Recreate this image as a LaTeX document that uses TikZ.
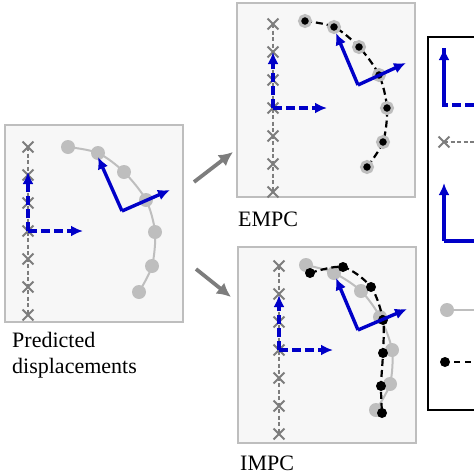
\documentclass[tikz,border=0pt]{standalone}
\usepackage{fontspec}
\setmainfont{Liberation Serif}
\usetikzlibrary{arrows.meta,shapes.misc}
\definecolor{azul}{RGB}{0,0,200}
\definecolor{fondo}{RGB}{247,247,247}
\definecolor{borde}{RGB}{190,190,190}
\definecolor{grisx}{RGB}{125,125,125}
\definecolor{grisc}{RGB}{190,190,190}

\begin{document}
\begin{tikzpicture}[x=1pt,y=-1pt,font=\fontsize{22}{26}\selectfont,
  panel/.style={draw=borde,fill=fondo,line width=1.4pt,minimum width=178pt,minimum height=196pt,inner sep=0pt},
  cruz/.style={cross out,draw=grisx,line width=1.8pt,minimum size=9pt,inner sep=0pt},
  guia/.style={draw=grisx,line width=1.5pt,dash pattern=on 4pt off 2.5pt},
  bola/.style={circle,fill=grisc,minimum size=14pt,inner sep=0pt},
  punto/.style={circle,fill=black,minimum size=10pt,inner sep=0pt},
  halo/.style={punto,minimum size=11pt,draw=grisc,line width=3pt},
  curvagris/.style={draw=grisc,line width=2pt},
  curvanegra/.style={draw=black,line width=2.2pt,dash pattern=on 7pt off 4pt},
  ejepunt/.style={draw=azul,line width=3.4pt,dash pattern=on 9pt off 4pt,-{Latex[length=12pt,width=11pt]}},
  eje/.style={draw=azul,line width=3.4pt,-{Latex[length=12pt,width=11pt]}},
  paso/.style={draw=grisx,line width=3.8pt,-{Latex[length=14pt,width=14pt]}},
  etiqueta/.style={inner sep=0pt,align=left}]
  \clip (0,0) rectangle (474,474);

  % Panel 1: desplazamientos predichos
  \node[panel,minimum height=197pt] (pred) at (94,223.5) {};
  \draw[guia] (28,147) -- (28,315);
  \foreach \y [count=\i] in {147,175,203,231,259,287,315}
    \node[cruz] (c1-\i) at (28,\y) {};
  \coordinate (y1) at (28,172);
  \coordinate (x1) at (83,231);
  \draw[ejepunt] (c1-4.center) -- (y1);
  \draw[ejepunt] (c1-4.center) -- (x1);
  \draw[curvagris] plot[smooth] coordinates {(68,147) (98,153) (124,172) (146,200) (155,232) (152,266) (139,292)};
  \foreach \p [count=\i] in {(68,147),(98,153),(124,172),(146,200),(155,232),(152,266),(139,292)}
    \node[bola] (g1-\i) at \p {};
  \coordinate (o1) at (122,211);
  \coordinate (a1) at (98,157);
  \coordinate (b1) at (170,190);
  \draw[eje] (o1) -- (a1);
  \draw[eje] (o1) -- (b1);
  \node[etiqueta,anchor=base west] (tpred) at (12,373) {Predicted\\displacements};

  % Panel 2: EMPC
  \node[panel,minimum height=194pt] (empc) at (326,100) {};
  \draw[guia] (273,24) -- (273,192);
  \foreach \y [count=\i] in {24,52,80,108,136,164,192}
    \node[cruz] (c2-\i) at (273,\y) {};
  \coordinate (y2) at (273,52);
  \coordinate (x2) at (327,108);
  \draw[ejepunt] (c2-4.center) -- (y2);
  \draw[ejepunt] (c2-4.center) -- (x2);
  \draw[curvanegra] plot[smooth] coordinates {(305,21) (334,27) (359,47) (379,75) (387,108) (383,142) (367,167)};
  \foreach \p [count=\i] in {(305,21),(334,27),(359,47),(379,75),(387,108),(383,142),(367,167)}
    \node[halo] (n2-\i) at \p {};
  \coordinate (o2) at (358,85);
  \coordinate (a2) at (336,33);
  \coordinate (b2) at (406,63);
  \draw[eje] (o2) -- (a2);
  \draw[eje] (o2) -- (b2);
  \node[etiqueta,anchor=base west] (tempc) at (238,226) {EMPC};

  % Panel 3: IMPC
  \node[panel] (impc) at (327,345) {};
  \draw[guia] (279,266) -- (279,434);
  \foreach \y [count=\i] in {266,294,322,350,378,406,434}
    \node[cruz] (c3-\i) at (279,\y) {};
  \coordinate (y3) at (279,295);
  \coordinate (x3) at (333,350);
  \draw[ejepunt] (c3-4.center) -- (y3);
  \draw[ejepunt] (c3-4.center) -- (x3);
  \draw[curvagris] plot[smooth] coordinates {(306,265) (334,273) (361,291) (380,317) (392,350) (390,384) (376,410)};
  \foreach \p [count=\i] in {(306,265),(334,273),(361,291),(380,317),(392,350),(390,384),(376,410)}
    \node[bola] (g3-\i) at \p {};
  \draw[curvanegra] plot[smooth] coordinates {(310,273) (343,267) (371,287) (383,320) (383,353) (381,386) (382,413)};
  \foreach \p [count=\i] in {(310,273),(343,267),(371,287),(383,320),(383,353),(381,386),(382,413)}
    \node[punto] (n3-\i) at \p {};
  \coordinate (o3) at (358,330);
  \coordinate (a3) at (336,278);
  \coordinate (b3) at (407,309);
  \draw[eje] (o3) -- (a3);
  \draw[eje] (o3) -- (b3);
  \node[etiqueta,anchor=base west] (timpc) at (240,470) {IMPC};

  % Flechas entre paneles
  \coordinate (s1) at (194,182);
  \coordinate (e1) at (233,152);
  \coordinate (s2) at (196,269);
  \coordinate (e2) at (231,297);
  \draw[paso] (s1) -- (e1);
  \draw[paso] (s2) -- (e2);

  % Leyenda (cortada a la derecha)
  \draw[line width=1.6pt] (500,37) -- (428,37) -- (428,410) -- (500,410);
  \coordinate (l1) at (444,105);
  \coordinate (l1a) at (444,48);
  \coordinate (l1b) at (480,105);
  \draw[ejepunt,-] (l1a) -- (l1) -- (l1b);
  \draw[ejepunt] (l1) -- (l1a);
  \node[cruz] (lc) at (444,142) {};
  \coordinate (lcb) at (480,142);
  \draw[guia] (lc.center) -- (lcb);
  \coordinate (l2) at (444,241);
  \coordinate (l2a) at (444,183);
  \coordinate (l2b) at (480,241);
  \draw[eje,-] (l2) -- (l2b);
  \draw[eje] (l2) -- (l2a);
  \node[bola] (lg) at (447,310) {};
  \coordinate (lgb) at (480,310);
  \draw[curvagris] (lg) -- (lgb);
  \node[punto] (ln) at (445,362) {};
  \coordinate (lnb) at (480,362);
  \draw[curvanegra,dash pattern=on 6pt off 5pt,dash phase=-4pt] (ln) -- (lnb);
\end{tikzpicture}
\end{document}
